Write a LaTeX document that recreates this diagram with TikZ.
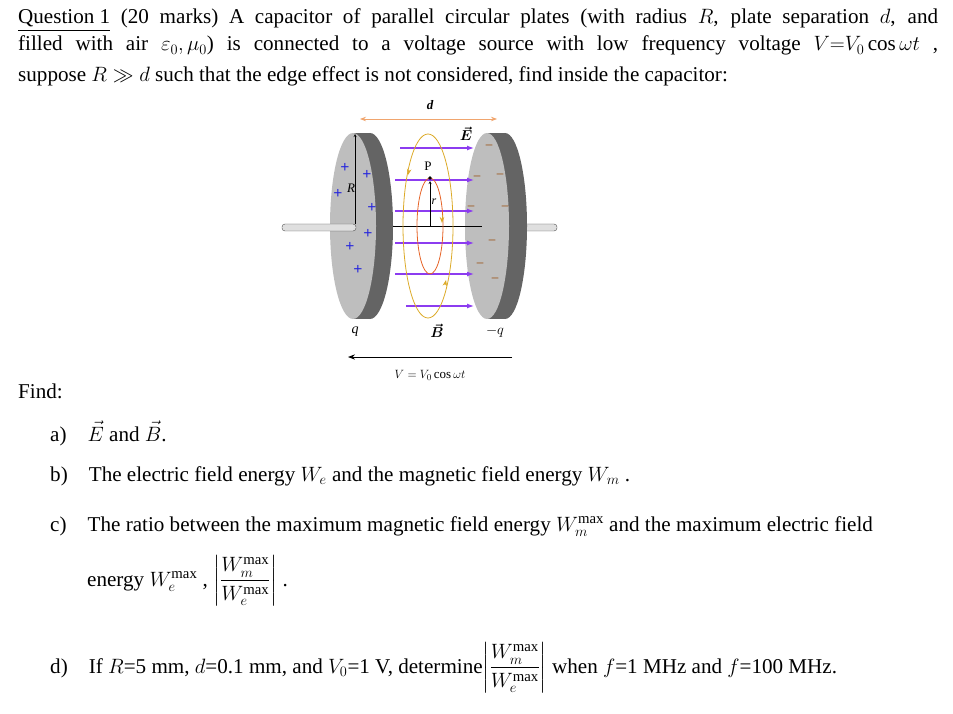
\documentclass[tikz,border=0pt]{standalone}
\usepackage{fontspec}
\setmainfont{Liberation Serif}
\usepackage{amsmath}
\usetikzlibrary{arrows.meta}
\definecolor{ecol}{RGB}{140,60,240}
\definecolor{byel}{RGB}{220,170,40}
\definecolor{bora}{RGB}{230,100,40}
\definecolor{dcol}{RGB}{240,165,110}
\definecolor{plate}{RGB}{190,190,190}
\definecolor{rim}{RGB}{100,100,100}
\definecolor{pcol}{RGB}{40,40,220}
\definecolor{mcol}{RGB}{160,100,50}
\begin{document}
\begin{tikzpicture}[x=1pt,y=-1pt,
  txt/.style={anchor=base west,inner sep=0pt,font=\fontsize{21.1}{24}\selectfont},
  lab/.style={inner sep=0pt,font=\fontsize{13}{14}\selectfont},
  earrow/.style={ecol,line width=1.2pt,-{Latex[length=7pt,width=5pt]}},
  plus/.style={pcol,inner sep=0pt,font=\fontsize{16}{16}\selectfont\bfseries},
  minus/.style={mcol,inner sep=0pt,font=\fontsize{13}{13}\selectfont\bfseries},
  rod/.style={fill=gray!25,draw=gray!60!black,rounded corners=3pt}]
\useasboundingbox (0,0) rectangle (953,714);
% text
\node[txt] (l1) at (18,24) {\hbox to 920pt{\underline{Question 1} (20 marks) A capacitor of parallel circular plates (with radius $R$, plate separation $d$, and}};
\node[txt] (l2) at (18,51) {\hbox to 920pt{filled with air $\varepsilon_0,\mu_0$) is connected to a voltage source with low frequency voltage ${V{=}V_0\cos\omega t}$ ,}};
\node[txt] (l3) at (18,82) {suppose $R\gg d$ such that the edge effect is not considered, find inside the capacitor:};
% right rod
\draw[rod] (515,224) rectangle (557,231);
% left plate
\fill[rim] (370,226) ellipse [x radius=23,y radius=93];
\fill[rim] (353,133) rectangle (370,319);
\fill[plate] (353,226) ellipse [x radius=23,y radius=93];
% right plate
\fill[rim] (505,226) ellipse [x radius=22,y radius=93];
\fill[rim] (487,133) rectangle (505,319);
\fill[plate] (487,226) ellipse [x radius=22,y radius=93];
% left rod
\draw[rod] (282,224) rectangle (356,231);
% axis
\coordinate (a1) at (393,226); \coordinate (a2) at (482,226);
\draw[black] (a1) -- (a2);
% R arrow
\coordinate (r0) at (355,224); \coordinate (r1) at (355,134);
\draw[-stealth] (r0) -- (r1);
\node[lab,font=\fontsize{13}{14}\selectfont\itshape] (Rl) at (351,188) {R};
% d arrow
\coordinate (d0) at (360,119); \coordinate (d1) at (497,119);
\draw[dcol,thick,{Stealth[length=6pt]}-{Stealth[length=6pt]}] (d0) -- (d1);
\node[lab,font=\fontsize{13}{14}\selectfont\bfseries\itshape] (dl) at (430,105) {d};
% E arrows
\foreach \y/\xs in {148/400,180/395,211/395,243/395,274/395,306/406}{
  \draw[earrow] (\xs,\y) -- (474,\y);}
% B loops
\draw[byel,thick] (428,226) ellipse [x radius=25,y radius=92];
\draw[bora,thick] (430,226) ellipse [x radius=13,y radius=48];
\draw[byel,thick,-{Stealth[length=6pt]}] (409,170) -- (408,175);
\draw[byel,thick,-{Stealth[length=6pt]}] (445,285) -- (446,280);
\draw[byel,thick,-{Stealth[length=6pt]}] (442,215) -- (442,223);
% P and r
\fill (430,178) circle (1.8);
\node[lab] (Pl) at (428,166) {P};
\coordinate (p0) at (430,226); \coordinate (p1) at (430,181);
\draw[-stealth] (p0) -- (p1);
\node[lab,font=\fontsize{12}{12}\selectfont\itshape] (rl) at (434,202) {r};
% charges
\foreach \x/\y in {345/168,367/175,338/194,372/208,368/234,350/247,358/270}{\node[plus] at (\x,\y) {+};}
\foreach \x/\y in {489/147,477/178,500/176,471/208,505/208,492/242,480/265,495/280}{\node[minus] at (\x,\y) {--};}
% labels
\node[lab,font=\fontsize{14}{14}\selectfont\itshape] (ql) at (355,332) {q};
\node[lab,font=\fontsize{14}{14}\selectfont] (Bl) at (437,331) {$\boldsymbol{\vec B}$};
\node[lab,font=\fontsize{14}{14}\selectfont] (El) at (466,134) {$\boldsymbol{\vec E}$};
\node[lab,font=\fontsize{14}{14}\selectfont] (mql) at (495,332) {$-q$};
\coordinate (v0) at (512,357); \coordinate (v1) at (348,357);
\draw[thick,-{Stealth[length=7pt]}] (v0) -- (v1);
\node[lab,font=\fontsize{13}{14}\selectfont] (Vl) at (430,375) {$V=V_0\cos\omega t$};
% questions
\node[txt] (find) at (18,398) {Find:};
\node[txt] (qa) at (50,441) {a)\quad $\vec E$ and $\vec B$.};
\node[txt] (qb) at (50,481) {b)\quad The electric field energy $W_e$ and the magnetic field energy $W_m$ .};
\node[txt] (qc) at (50,531) {c)\quad The ratio between the maximum magnetic field energy $W_m^{\max}$ and the maximum electric field};
\node[txt] (qc2) at (87,586) {energy $W_e^{\max}$ , $\left|\dfrac{W_m^{\max}}{W_e^{\max}}\right|$ .};
\node[txt] (qd) at (50,673) {d)\quad If $R$=5 mm, $d$=0.1 mm, and $V_0$=1 V, determine$\left|\dfrac{W_m^{\max}}{W_e^{\max}}\right|$ when $f$=1 MHz and $f$=100 MHz.};
\end{tikzpicture}
\end{document}
